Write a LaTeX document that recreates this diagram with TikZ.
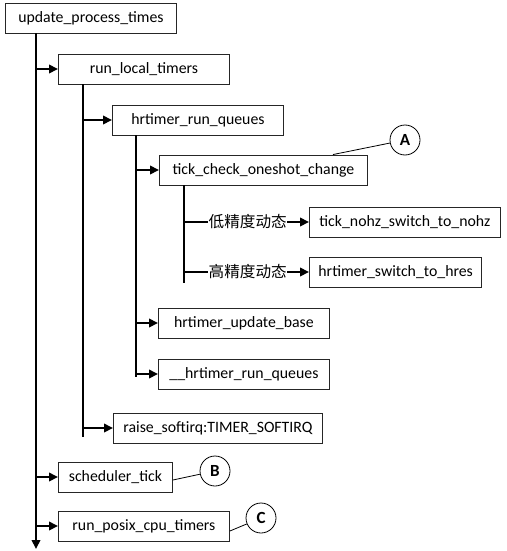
\documentclass[tikz,border=0pt]{standalone}
\usepackage{fontspec}
\setmainfont{Carlito}
\newfontfamily\cjk{Noto Sans CJK SC}
\usetikzlibrary{arrows.meta,positioning}

\begin{document}
\begin{tikzpicture}[x=1pt,y=-1pt,
    fn/.style={draw=black!85, line width=0.9pt, rectangle, minimum width=171pt, minimum height=30pt, inner xsep=9pt, font=\fontsize{15.8}{18}\selectfont, anchor=west},
    tag/.style={draw, line width=0.8pt, circle, minimum size=30pt, inner sep=0pt, font=\bfseries\fontsize{17}{19}\selectfont},
    trunk/.style={line width=2pt},
    call/.style={line width=2pt, -{Triangle[length=9pt,width=8.5pt]}},
    note/.style={line width=0.8pt},
    cond/.style={anchor=west, inner sep=0.5pt, font=\cjk\fontsize{15.6}{18}\selectfont}]
    \useasboundingbox (0,0) rectangle (506,551);

    % functions
    \node[fn] (upt) at (5,18) {update\_process\_times};
    \node[fn] (rlt) at (58,69) {run\_local\_timers};
    \node[fn] (hrq) at (112,120) {hrtimer\_run\_queues};
    \node[fn, minimum width=208pt] (tco) at (159,170) {tick\_check\_oneshot\_change};
    \node[fn, minimum width=191pt] (nohz) at (309,222) {tick\_nohz\_switch\_to\_nohz};
    \node[fn] (hres) at (309,272) {hrtimer\_switch\_to\_hres};
    \node[fn] (hub) at (158,323) {hrtimer\_update\_base};
    \node[fn] (uhrq) at (158,374) {\_\_hrtimer\_run\_queues};
    \node[fn, minimum width=209pt] (raise) at (113,428) {raise\_softirq:TIMER\_SOFTIRQ};
    \node[fn, minimum width=114pt] (sched) at (58,477) {scheduler\_tick};
    \node[fn] (posix) at (58,526) {run\_posix\_cpu\_timers};

    % markers
    \node[tag] (tagA) at (405,140) {A};
    \node[tag] (tagB) at (215,471) {B};
    \node[tag] (tagC) at (261,518) {C};

    % trunks
    \coordinate (t1) at ([xshift=31pt]upt.south west);
    \coordinate (t1end) at (36,549);
    \coordinate (t2) at ([xshift=25pt]rlt.south west);
    \coordinate (t2end) at (83,437);
    \coordinate (t3) at ([xshift=24pt]hrq.south west);
    \coordinate (t3end) at (136,377);
    \coordinate (t4) at ([xshift=25pt]tco.south west);
    \coordinate (t4end) at (184,283);

    \draw[call] (t1) -- (t1end);
    \draw[trunk] (t2) -- (t2end);
    \draw[trunk] (t3) -- (t3end);
    \draw[trunk] (t4) -- (t4end);

    % calls
    \draw[call] (t1 |- rlt) -- (rlt.west);
    \draw[call] (t1 |- sched) -- (sched.west);
    \draw[call] (t1 |- posix) -- (posix.west);
    \draw[call] (t2 |- hrq) -- (hrq.west);
    \draw[call] (t2 |- raise) -- (raise.west);
    \draw[call] (t3 |- tco) -- (tco.west);
    \draw[call] (t3 |- hub) -- (hub.west);
    \draw[call] (t3 |- uhrq) -- (uhrq.west);

    % low / high resolution branches
    \node[cond] (low) at (208,222) {低精度动态};
    \node[cond] (high) at (208,272) {高精度动态};
    \draw[trunk] (t4 |- low) -- (low.west);
    \draw[trunk] (t4 |- high) -- (high.west);
    \draw[call] (low.east) -- (nohz.west);
    \draw[call] (high.east) -- (hres.west);

    % marker lines
    \draw[note] ([xshift=174pt]tco.north west) -- (tagA);
    \draw[note] ([yshift=-3pt]sched.east) -- (tagB);
    \draw[note] ([yshift=-5pt]posix.east) -- (tagC);
\end{tikzpicture}
\end{document}
